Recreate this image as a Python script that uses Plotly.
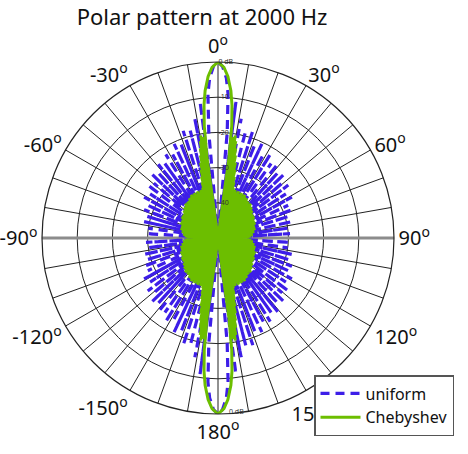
import plotly.graph_objects as go

# ---------------- data (one quadrant 0..90 deg; pattern is symmetric) ----------------
FLOOR_DB = -50

# uniform array: main lobe, then side-lobe peaks (angle deg, level dB)
uni_main_ang = [0, 1.5, 3.0, 4.0, 5.0, 5.6]
uni_main_db = [0, -1.2, -4.5, -9, -20, -50]
uni_peak_ang = [7.5, 11.0, 14.5, 18.0, 21.5, 25.0, 28.5, 32.0, 35.5, 39.0, 42.5, 46.0, 49.5, 53.0,
                57.0, 61.0, 65.0, 69.0, 73.0, 77.5, 82.0, 86.5]
uni_peak_db = [-11, -15.5, -18.5, -18, -21.5, -20.5, -23, -22, -24, -23, -25, -24, -26, -25,
               -27, -26, -28, -27.5, -29, -28.5, -30, -29.5]

# Chebyshev array: main lobe, then side-lobe peaks
che_main_ang = [0, 2.0, 3.5, 5.0, 6.0, 7.0, 7.8, 8.3]
che_main_db = [0, -1.5, -4, -8, -12, -18, -27, -50]
che_peak_ang = [8.8, 9.6, 10.4, 11.2, 12.0, 13.0, 14.0, 15.0, 16.0, 17.0, 18.0, 20.0, 22.0, 24.0,
                26.0, 28.0, 30.0, 32.0, 34.0, 36.0, 38.0, 40.0, 42.0, 44.0, 46.0, 48.0, 50.0, 52.0,
                54.0, 56.0, 58.0, 60.0, 62.0, 64.0, 66.0, 68.0, 70.0, 72.0, 74.0, 76.0, 78.0, 80.0,
                82.0, 84.0, 86.0, 88.0]
che_peak_db = [-21, -20.5, -22, -24, -26, -28, -30, -32, -33.5, -35, -36, -35.5, -36, -35.5,
               -36, -35.5, -36, -35.5, -36, -36, -36.5, -36.5, -37, -36.5, -37, -37, -37.5, -37.5,
               -38, -38, -38.5, -38, -38.5, -38.5, -39, -38.5, -39, -39, -39.5, -39, -39.5, -39.5,
               -40, -40, -40.5, -41]

angle_ticks = list(range(0, 360, 10))
angle_labels = {0: "0", 30: "30", 60: "60", 90: "90", 120: "120", 180: "180",
                210: "-150", 240: "-120", 270: "-90", 300: "-60", 330: "-30"}
hidden_label = "150"          # drawn beneath the legend, as in the picture
radial_ticks = [-40, -30, -20, -10, 0]
radial_labels = ["-40", "-30", "-20", "-10", "0 dB"]


def quadrant(main_a, main_r, peak_a, peak_r):
    a = list(main_a)
    r = list(main_r)
    for i, (pa, pr) in enumerate(zip(peak_a, peak_r)):
        a.append(pa)
        r.append(pr)
        nxt = peak_a[i + 1] if i + 1 < len(peak_a) else 90.0
        a.append((pa + nxt) / 2.0)
        r.append(FLOOR_DB)
    return a, r


def full(main_a, main_r, peak_a, peak_r):
    qa, qr = quadrant(main_a, main_r, peak_a, peak_r)
    ra = qa + [180 - x for x in reversed(qa)]
    rr = qr + list(reversed(qr))
    la = [-x for x in reversed(ra)]
    lr = list(reversed(rr))
    return la + ra, lr + rr


ua, ur = full(uni_main_ang, uni_main_db, uni_peak_ang, uni_peak_db)
ca, cr = full(che_main_ang, che_main_db, che_peak_ang, che_peak_db)

W, H = 468, 454
cx, cy, R = 218, 238, 176

fig = go.Figure()
# label for 150 deg sits partly under the legend (paper-pixel frame)
fig.add_trace(go.Scatter(x=[313], y=[416], mode="text", text=[hidden_label + "<sup>o</sup>"],
                         textfont=dict(size=20, color="#111", family="Noto Sans"),
                         showlegend=False, hoverinfo="skip", cliponaxis=False))
fig.add_trace(go.Scatterpolar(theta=[-90, 0, 90], r=[0, FLOOR_DB, 0], mode="lines",
                              line=dict(color="#8c8c8c", width=3), showlegend=False, hoverinfo="skip"))
fig.add_trace(go.Scatterpolar(theta=ua, r=ur, mode="lines", name="uniform",
                              line=dict(color="#3d1ee8", width=3.2, dash="9px,6px")))
fig.add_trace(go.Scatterpolar(theta=ca, r=cr, mode="lines", name="Chebyshev",
                              line=dict(color="#6cbe00", width=3)))

fig.update_layout(
    width=W, height=H,
    margin=dict(l=0, r=0, t=0, b=0),
    paper_bgcolor="white",
    plot_bgcolor="rgba(0,0,0,0)",
    font=dict(family="Noto Sans", color="#111"),
    title=dict(text="Polar pattern at 2000 Hz", x=202 / W, xanchor="center",
               y=1 - 17 / H, yanchor="middle", font=dict(size=22, color="#111")),
    xaxis=dict(domain=[0, 1], range=[0, W], visible=False, fixedrange=True),
    yaxis=dict(domain=[0, 1], range=[H, 0], visible=False, fixedrange=True),
    polar=dict(
        domain=dict(x=[(cx - R) / W, (cx + R) / W], y=[1 - (cy + R) / H, 1 - (cy - R) / H]),
        bgcolor="white",
        angularaxis=dict(rotation=90, direction="clockwise", tickmode="array",
                         tickvals=angle_ticks,
                         ticktext=[(angle_labels[t] + "<sup>o</sup>") if t in angle_labels else ""
                                   for t in angle_ticks],
                         showgrid=True, gridcolor="#222", gridwidth=1,
                         showline=True, linecolor="#222", linewidth=1.2, ticks="",
                         tickfont=dict(size=20, color="#111")),
        radialaxis=dict(range=[FLOOR_DB, 0], angle=90, tickangle=90, side="clockwise",
                        tickmode="array", tickvals=radial_ticks,
                        ticktext=radial_labels, showgrid=True, gridcolor="#222", gridwidth=1,
                        showline=False, ticks="", tickfont=dict(size=7, color="#333")),
    ),
    annotations=[dict(text="0 dB", x=236 / W, y=1 - 411 / H, xref="paper", yref="paper",
                      xanchor="center", yanchor="middle", showarrow=False,
                      font=dict(size=7, color="#333"))],
    legend=dict(x=314 / W, y=1 - 375 / H, xanchor="left", yanchor="top",
                bgcolor="white", bordercolor="#555", borderwidth=1.5,
                font=dict(size=16, color="#111"), itemwidth=40, tracegroupgap=0),
)
fig.write_html("out.html")
